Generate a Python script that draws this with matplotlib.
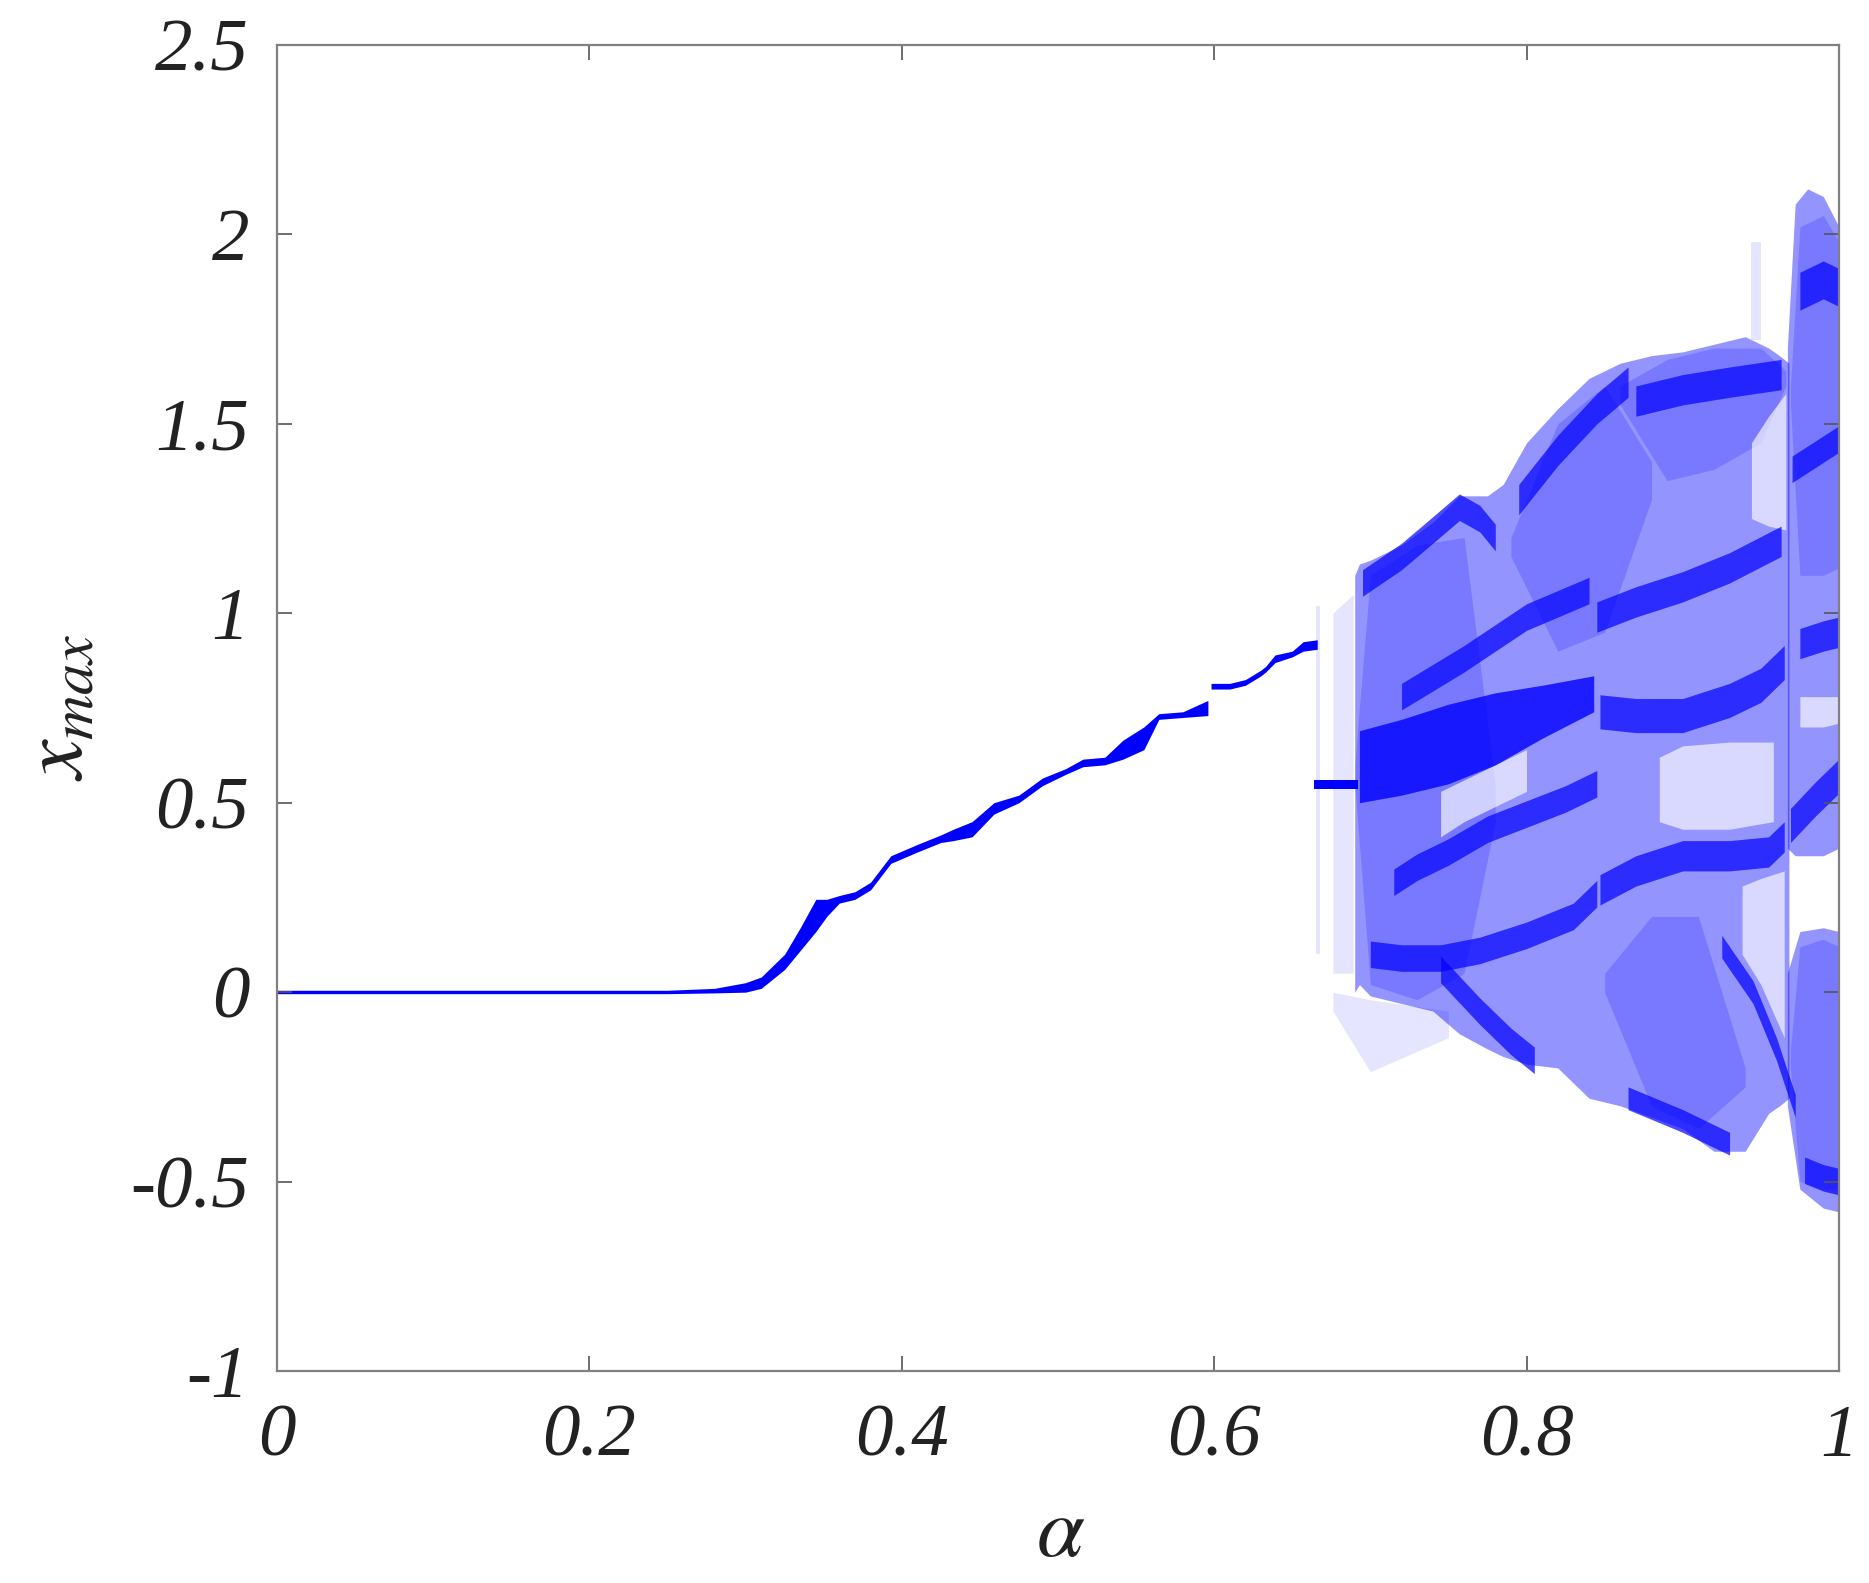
import matplotlib
matplotlib.use('Agg')
import matplotlib.pyplot as plt
from matplotlib.font_manager import FontProperties

plt.rcParams['mathtext.fontset'] = 'stix'
plt.rcParams['axes.unicode_minus'] = False

BLUE = (0.0, 0.0, 1.0)

# period-1 branch (alpha, lower edge, upper edge)
branch1_a  = [0.0, 0.25, 0.28, 0.30, 0.31, 0.325, 0.335, 0.345, 0.352, 0.36, 0.37, 0.38, 0.393,
              0.41, 0.425, 0.433, 0.445, 0.459, 0.475, 0.49, 0.505, 0.516, 0.53, 0.5416,
              0.555, 0.5646, 0.58, 0.596]
branch1_lo = [-0.004, -0.004, -0.002, 0.0, 0.01, 0.06, 0.11, 0.16, 0.20, 0.235, 0.245, 0.27, 0.34,
              0.37, 0.395, 0.40, 0.41, 0.47, 0.50, 0.545, 0.575, 0.595, 0.60, 0.615,
              0.64, 0.72, 0.725, 0.73]
branch1_hi = [0.005, 0.005, 0.01, 0.025, 0.04, 0.10, 0.17, 0.245, 0.245, 0.255, 0.265, 0.29, 0.36,
              0.39, 0.415, 0.43, 0.45, 0.50, 0.52, 0.565, 0.59, 0.615, 0.62, 0.665,
              0.70, 0.735, 0.74, 0.77]
branch2_a  = [0.598, 0.61, 0.62, 0.63, 0.633, 0.639, 0.65, 0.657, 0.666]
branch2_lo = [0.80, 0.80, 0.81, 0.835, 0.845, 0.87, 0.885, 0.90, 0.905]
branch2_hi = [0.815, 0.815, 0.825, 0.85, 0.86, 0.89, 0.90, 0.925, 0.93]

# short period line after the branch
line_a  = [0.664, 0.692]
line_lo = [0.535, 0.535]
line_hi = [0.56, 0.56]

# diffuse chaotic cloud, outer edges
env_a  = [0.690, 0.693, 0.70, 0.72, 0.74, 0.757, 0.775, 0.785, 0.80, 0.82, 0.84, 0.86,
          0.88, 0.90, 0.92, 0.94, 0.955, 0.962, 0.968]
env_hi = [1.10, 1.13, 1.14, 1.18, 1.24, 1.31, 1.31, 1.34, 1.45, 1.54, 1.62, 1.66,
          1.68, 1.69, 1.71, 1.73, 1.70, 1.68, 1.66]
env_lo = [0.00, 0.02, -0.01, -0.03, -0.05, -0.11, -0.15, -0.17, -0.19, -0.20, -0.28, -0.30,
          -0.33, -0.36, -0.42, -0.42, -0.32, -0.30, -0.28]

right_up_a  = [0.967, 0.972, 0.98, 0.99, 1.0]
right_up_lo = [0.38, 0.36, 0.36, 0.36, 0.38]
right_up_hi = [1.70, 2.08, 2.12, 2.10, 2.02]
right_dn_a  = [0.967, 0.975, 0.99, 1.0]
right_dn_lo = [-0.30, -0.52, -0.57, -0.58]
right_dn_hi = [0.05, 0.16, 0.17, 0.16]

# denser sheets inside the cloud (alpha, lower, upper), tapered at the ends
sheets = [
    ([0.690, 0.70, 0.73, 0.76, 0.78], [0.55, 0.02, -0.02, 0.05, 0.45], [0.60, 1.10, 1.18, 1.20, 0.55]),
    ([0.86, 0.89, 0.92, 0.95, 0.966], [1.55, 1.35, 1.38, 1.45, 1.60], [1.60, 1.67, 1.70, 1.70, 1.64]),
    ([0.969, 0.975, 0.99, 1.0], [1.55, 1.10, 1.10, 1.12], [1.60, 2.02, 2.05, 1.98]),
    ([0.969, 0.975, 0.99, 1.0], [-0.20, -0.50, -0.52, -0.52], [-0.15, 0.12, 0.14, 0.12]),
    ([0.79, 0.82, 0.85, 0.88], [1.15, 0.90, 0.95, 1.30], [1.20, 1.50, 1.60, 1.40]),
    ([0.85, 0.88, 0.91, 0.94], [0.0, -0.30, -0.36, -0.25], [0.05, 0.20, 0.20, -0.20]),
]

# sparse dots (very light)
sparse = [
    ([0.665, 0.668], [0.10, 0.10], [1.02, 1.02]),
    ([0.676, 0.689], [0.05, 0.05], [1.00, 1.05]),
    ([0.676, 0.70, 0.75], [-0.05, -0.21, -0.12], [0.0, -0.02, -0.05]),
    ([0.944, 0.95], [1.72, 1.72], [1.98, 1.98]),
]

# near-empty holes inside the cloud
holes = [
    ([0.885, 0.90, 0.93, 0.958], [0.45, 0.43, 0.43, 0.45], [0.62, 0.65, 0.66, 0.66]),
    ([0.938, 0.95, 0.965], [0.10, 0.02, -0.12], [0.28, 0.30, 0.32]),
    ([0.944, 0.955, 0.966], [1.25, 1.23, 1.22], [1.45, 1.52, 1.58]),
    ([0.745, 0.76, 0.78, 0.80], [0.41, 0.45, 0.49, 0.53], [0.53, 0.56, 0.60, 0.64]),
    ([0.975, 0.99, 1.0], [0.70, 0.70, 0.71], [0.78, 0.78, 0.78]),
    ([0.975, 0.99, 1.0], [0.18, 0.18, 0.18], [0.34, 0.34, 0.34]),
]

# dense bands: (alpha, centre, half width)
bands = [
    ([0.695, 0.72, 0.74, 0.757, 0.77, 0.78], [1.08, 1.15, 1.22, 1.28, 1.25, 1.20], 0.035),
    ([0.72, 0.76, 0.80, 0.84], [0.78, 0.88, 0.99, 1.06], 0.035),
    ([0.795, 0.82, 0.845, 0.865], [1.30, 1.43, 1.54, 1.61], 0.04),
    ([0.87, 0.90, 0.93, 0.963], [1.56, 1.59, 1.61, 1.63], 0.04),
    ([0.845, 0.87, 0.90, 0.93, 0.963], [0.99, 1.03, 1.07, 1.12, 1.19], 0.04),
    ([0.715, 0.73, 0.75, 0.775, 0.80, 0.825, 0.845], [0.29, 0.33, 0.37, 0.43, 0.47, 0.51, 0.55], 0.035),
    ([0.70, 0.72, 0.745, 0.77, 0.80, 0.83, 0.845], [0.10, 0.09, 0.09, 0.11, 0.15, 0.20, 0.26], 0.035),
    ([0.847, 0.87, 0.90, 0.93, 0.955, 0.965], [0.27, 0.32, 0.36, 0.36, 0.37, 0.41], 0.04),
    ([0.847, 0.87, 0.90, 0.93, 0.95, 0.965], [0.74, 0.73, 0.73, 0.77, 0.81, 0.87], 0.045),
    ([0.745, 0.77, 0.79, 0.805], [0.06, -0.05, -0.13, -0.18], 0.035),
    ([0.865, 0.90, 0.93], [-0.28, -0.34, -0.40], 0.03),
    ([0.925, 0.945, 0.96, 0.972], [0.12, 0.0, -0.15, -0.30], 0.03),
    ([0.970, 0.985, 1.0], [1.38, 1.42, 1.46], 0.035),
    ([0.975, 0.99, 1.0], [0.92, 0.94, 0.95], 0.04),
    ([0.969, 0.985, 1.0], [0.44, 0.51, 0.57], 0.045),
    ([0.978, 0.99, 1.0], [-0.47, -0.49, -0.50], 0.035),
    ([0.975, 0.99, 1.0], [1.85, 1.88, 1.86], 0.05),
]
# thick left block of the main band (alpha, lower, upper)
main_band_a  = [0.693, 0.72, 0.75, 0.78, 0.81, 0.843]
main_band_lo = [0.50, 0.52, 0.55, 0.60, 0.67, 0.74]
main_band_hi = [0.69, 0.72, 0.76, 0.79, 0.81, 0.835]

xticks = [0, 0.2, 0.4, 0.6, 0.8, 1]
xtick_labels = ['0', '0.2', '0.4', '0.6', '0.8', '1']
yticks = [-1, -0.5, 0, 0.5, 1, 1.5, 2, 2.5]
ytick_labels = ['-1', '-0.5', '0', '0.5', '1', '1.5', '2', '2.5']

fig = plt.figure(figsize=(18.69, 15.83), dpi=100)
ax = fig.add_axes([0.1482, 0.1339, 0.8357, 0.8377])

def fill(a, lo, hi, c=BLUE, al=1.0):
	ax.fill_between(a, lo, hi, color=c, alpha=al, linewidth=0)

# cloud
fill(env_a, env_lo, env_hi, al=0.42)
fill(right_up_a, right_up_lo, right_up_hi, al=0.42)
fill(right_dn_a, right_dn_lo, right_dn_hi, al=0.42)
for a, lo, hi in sheets:
	fill(a, lo, hi, al=0.18)
for a, lo, hi in sparse:
	fill(a, lo, hi, al=0.1)
for a, lo, hi in holes:
	fill(a, lo, hi, c='white', al=0.65)
fill(main_band_a, main_band_lo, main_band_hi, al=0.8)
for a, c, hw in bands:
	fill(a, [v - hw for v in c], [v + hw for v in c], al=0.7)

# regular branch
fill(branch1_a, branch1_lo, branch1_hi)
fill(branch2_a, branch2_lo, branch2_hi)
fill(line_a, line_lo, line_hi)

tick_font = FontProperties(family='Liberation Serif', style='italic', size=54)

ax.set_xlim(0, 1)
ax.set_ylim(-1, 2.5)
ax.set_xticks(xticks)
ax.set_xticklabels(xtick_labels, fontproperties=tick_font)
ax.set_yticks(yticks)
ax.set_yticklabels(ytick_labels, fontproperties=tick_font)

for s in ax.spines.values():
	s.set_color('#808080')
	s.set_linewidth(1.6)
ax.tick_params(direction='in', length=11, width=1.2, colors='#555555',
               top=True, right=True, labelcolor='#222222')
ax.tick_params(axis='x', pad=24)
ax.tick_params(axis='y', pad=20)

fig.text(0.5677, 0.032, r'$\alpha$', fontsize=62, ha='center', va='center', color='#222222')
fig.text(0.031, 0.553, r'$x_{max}$', fontsize=64, ha='center', va='center', rotation=90,
         color='#222222')

plt.savefig('out.png', dpi=100)
